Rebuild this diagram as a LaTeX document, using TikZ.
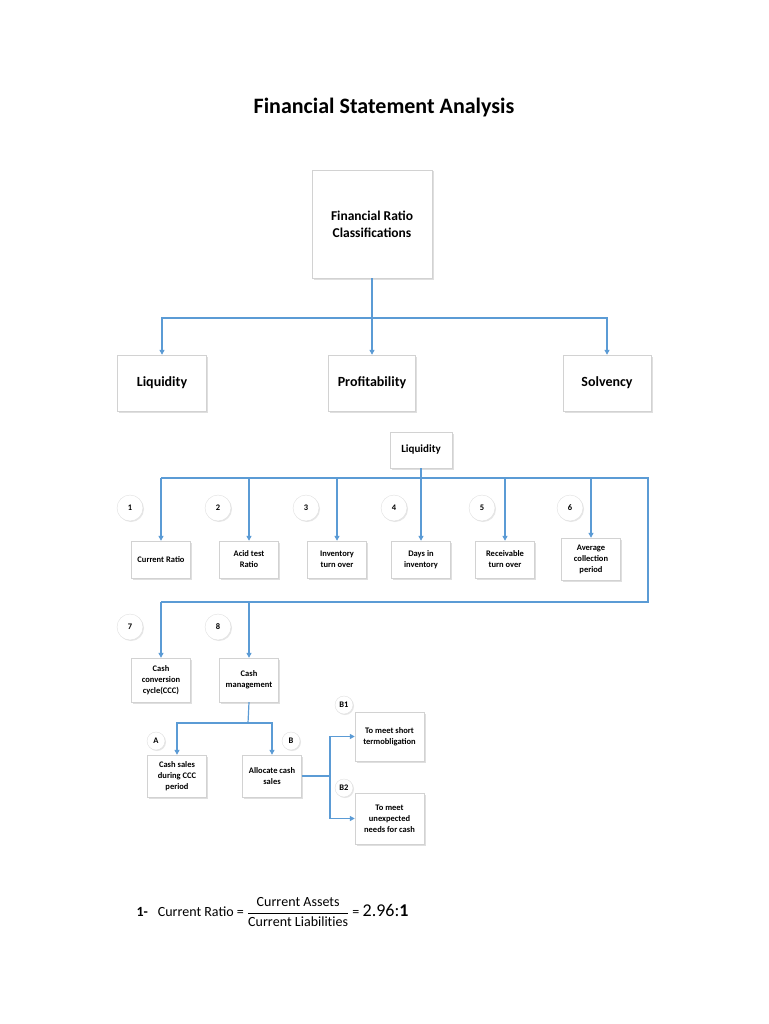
\documentclass[tikz,border=0pt]{standalone}
\usepackage{fontspec}
\setmainfont{Carlito}
\usetikzlibrary{shadows,arrows.meta}
\definecolor{ln}{RGB}{91,155,213}
\begin{document}
\begin{tikzpicture}[x=1pt,y=-1pt,
  bx/.style={draw=gray!35,fill=white,drop shadow={shadow xshift=1.5pt,shadow yshift=-1.5pt,opacity=.25},align=center,inner sep=1pt,font=\bfseries\fontsize{8.5}{11}\selectfont},
  circ/.style={circle,draw=gray!25,fill=white,drop shadow={shadow xshift=1pt,shadow yshift=-1pt,opacity=.2},minimum size=26pt,inner sep=0pt,font=\bfseries\fontsize{8.5}{9}\selectfont},
  con/.style={draw=ln,line width=1.2pt,-{Triangle[length=5pt,width=5pt]}},
  seg/.style={draw=ln,line width=1.2pt}]
\useasboundingbox (0,0) rectangle (768,1024);
\node[font=\bfseries\fontsize{22}{26}\selectfont] (title) at (384,108) {Financial Statement Analysis};
\node[bx,minimum width=120pt,minimum height=108pt,font=\bfseries\fontsize{13.5}{17}\selectfont] (top) at (372,224) {Financial Ratio\\Classifications};
\node[bx,minimum width=89pt,minimum height=56pt,font=\bfseries\fontsize{14}{17}\selectfont] (liq) at (162,383) {Liquidity};
\node[bx,minimum width=87pt,minimum height=56pt,font=\bfseries\fontsize{14}{17}\selectfont] (prof) at (372,383) {Profitability};
\node[bx,minimum width=88pt,minimum height=56pt,font=\bfseries\fontsize{14}{17}\selectfont] (solv) at (607,383) {Solvency};
\coordinate (j1) at (372,318);
\draw[seg] (top.south) -- (j1);
\draw[con] (j1) -| (liq.north);
\draw[con] (j1) -| (solv.north);
\draw[con] (j1) -- (prof.north);

\node[bx,minimum width=62pt,minimum height=36pt,font=\bfseries\fontsize{11}{13}\selectfont] (liq2) at (421,450) {Liquidity};
\coordinate (h1) at (421,478);
\draw[seg] (liq2.south) -- (h1);
\foreach \i/\x/\t in {1/161/Current Ratio,2/249/{Acid test\\Ratio},3/337/{Inventory\\turn over},4/421/{Days in\\inventory},5/505/{Receivable\\turn over}}{
  \node[bx,minimum width=59pt,minimum height=37pt] (r\i) at (\x,559.5) {\t};
  \draw[con] (\x,478) -- (r\i.north);
}
\node[bx,minimum width=59pt,minimum height=42pt] (r6) at (591,559) {Average\\collection\\period};
\draw[con] (591,478) -- (r6.north);
\foreach \i/\x in {1/130,2/218,3/306,4/394,5/482,6/570}{\node[circ] (c\i) at (\x,508) {\i};}
\coordinate (e1) at (648,478); \coordinate (e2) at (648,602);
\draw[seg] (161,478) -- (e1) -- (e2) -- (161,602);
\node[bx,minimum width=59pt,minimum height=44pt] (r7) at (161,680) {Cash\\conversion\\cycle(CCC)};
\node[bx,minimum width=59pt,minimum height=44pt] (r8) at (249,680) {Cash\\management};
\draw[con] (161,602) -- (r7.north);
\draw[con] (249,602) -- (r8.north);
\node[circ] (c7) at (130,627) {7};
\node[circ] (c8) at (218,627) {8};

\node[bx,minimum width=59pt,minimum height=42pt] (ra) at (177,776) {Cash sales\\during CCC\\period};
\node[bx,minimum width=59pt,minimum height=42pt] (rb) at (272,776) {Allocate cash\\sales};
\coordinate (k1) at (248,723);
\draw[seg] (r8.south) -- (k1);
\draw[con] (k1) -| (ra.north);
\draw[con] (k1) -| (rb.north);
\node[circ,minimum size=18pt] (ca) at (156,741) {A};
\node[circ,minimum size=18pt] (cb) at (291,741) {B};

\node[bx,minimum width=69pt,minimum height=49pt] (rb1) at (389.5,736.5) {To meet short\\termobligation};
\node[bx,minimum width=69pt,minimum height=51pt] (rb2) at (389.5,818.5) {To meet\\unexpected\\needs for cash};
\coordinate (m1) at (330,776);
\draw[seg] (rb.east) -- (m1);
\draw[con] (m1) |- (rb1.west);
\draw[con] (m1) |- (rb2.west);
\node[circ,minimum size=18pt] (cb1) at (344,705) {B1};
\node[circ,minimum size=18pt] (cb2) at (344,788) {B2};

\node[anchor=west,font=\fontsize{14}{16}\selectfont] (f) at (133,912) {\textbf{1-}\hspace{10pt}Current Ratio = $\displaystyle\frac{\mathrm{Current\ Assets}}{\mathrm{Current\ Liabilities}}$ = \fontsize{18}{20}\selectfont 2.96:\textbf{1}};
\end{tikzpicture}
\end{document}
